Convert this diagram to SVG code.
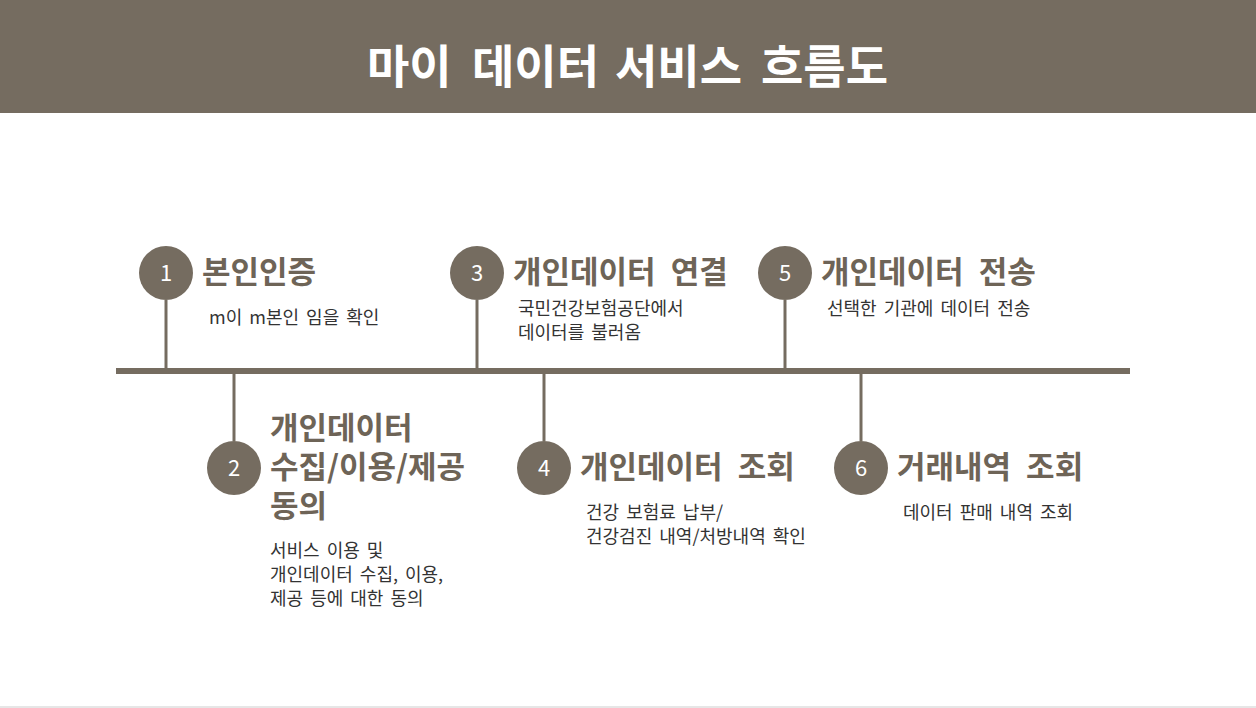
<svg xmlns="http://www.w3.org/2000/svg" width="1256" height="708" viewBox="0 0 1256 708">
<style>
.hdr{fill:#756c60}
.ttl{font-family:"Noto Sans CJK KR","Noto Sans",sans-serif;font-weight:700;font-size:46px;fill:#ffffff}
.c{fill:#756c60}
.num{font-family:"Noto Sans CJK KR","Noto Sans",sans-serif;font-size:22px;fill:#ffffff;text-anchor:middle}
.h{font-family:"Noto Sans CJK KR","Noto Sans",sans-serif;font-weight:700;font-size:31px;fill:#6e6457;word-spacing:8px}
.s{font-family:"Noto Sans CJK KR","Noto Sans",sans-serif;font-size:18px;fill:#333333;word-spacing:3px}
.ln{stroke:#756c60;stroke-width:3}
</style>
<rect width="1256" height="708" fill="#ffffff"/>
<rect class="hdr" x="0" y="0" width="1256" height="113"/>
<text class="ttl" y="83"><tspan x="367">마이</tspan><tspan x="472">데이터</tspan><tspan x="615">서비스</tspan><tspan x="761">흐름도</tspan></text>
<rect x="0" y="706" width="1256" height="2" fill="#e6e6e6"/>
<g id="connectors">
<rect x="116" y="368" width="1014" height="6" fill="#756c60"/>
<line class="ln" x1="166" y1="300" x2="166" y2="368"/>
<line class="ln" x1="477" y1="300" x2="477" y2="368"/>
<line class="ln" x1="785" y1="300" x2="785" y2="368"/>
<line class="ln" x1="234" y1="374" x2="234" y2="441"/>
<line class="ln" x1="544" y1="374" x2="544" y2="441"/>
<line class="ln" x1="861" y1="374" x2="861" y2="441"/>
</g>
<g id="node1">
<circle class="c" cx="166" cy="273" r="27"/>
<text class="num" x="166" y="281">1</text>
<text class="h" x="202" y="283">본인인증</text>
<text class="s" x="209" y="324">m이 m본인 임을 확인</text>
</g>
<g id="node2">
<circle class="c" cx="234" cy="468" r="27"/>
<text class="num" x="234" y="476">2</text>
<text class="h" x="270" y="439">개인데이터</text>
<text class="h" x="270" y="478">수집/이용/제공</text>
<text class="h" x="270" y="517">동의</text>
<text class="s" x="270" y="557">서비스 이용 및</text>
<text class="s" x="270" y="581">개인데이터 수집, 이용,</text>
<text class="s" x="270" y="605">제공 등에 대한 동의</text>
</g>
<g id="node3">
<circle class="c" cx="477" cy="273" r="27"/>
<text class="num" x="477" y="281">3</text>
<text class="h" x="513" y="283">개인데이터 연결</text>
<text class="s" x="518" y="315">국민건강보험공단에서</text>
<text class="s" x="518" y="339">데이터를 불러옴</text>
</g>
<g id="node4">
<circle class="c" cx="544" cy="468" r="27"/>
<text class="num" x="544" y="476">4</text>
<text class="h" x="580" y="478">개인데이터 조회</text>
<text class="s" x="586" y="519">건강 보험료 납부/</text>
<text class="s" x="586" y="543">건강검진 내역/처방내역 확인</text>
</g>
<g id="node5">
<circle class="c" cx="785" cy="273" r="27"/>
<text class="num" x="785" y="281">5</text>
<text class="h" x="821" y="283">개인데이터 전송</text>
<text class="s" x="827" y="315">선택한 기관에 데이터 전송</text>
</g>
<g id="node6">
<circle class="c" cx="861" cy="468" r="27"/>
<text class="num" x="861" y="476">6</text>
<text class="h" x="897" y="478">거래내역 조회</text>
<text class="s" x="903" y="519">데이터 판매 내역 조회</text>
</g>
</svg>
